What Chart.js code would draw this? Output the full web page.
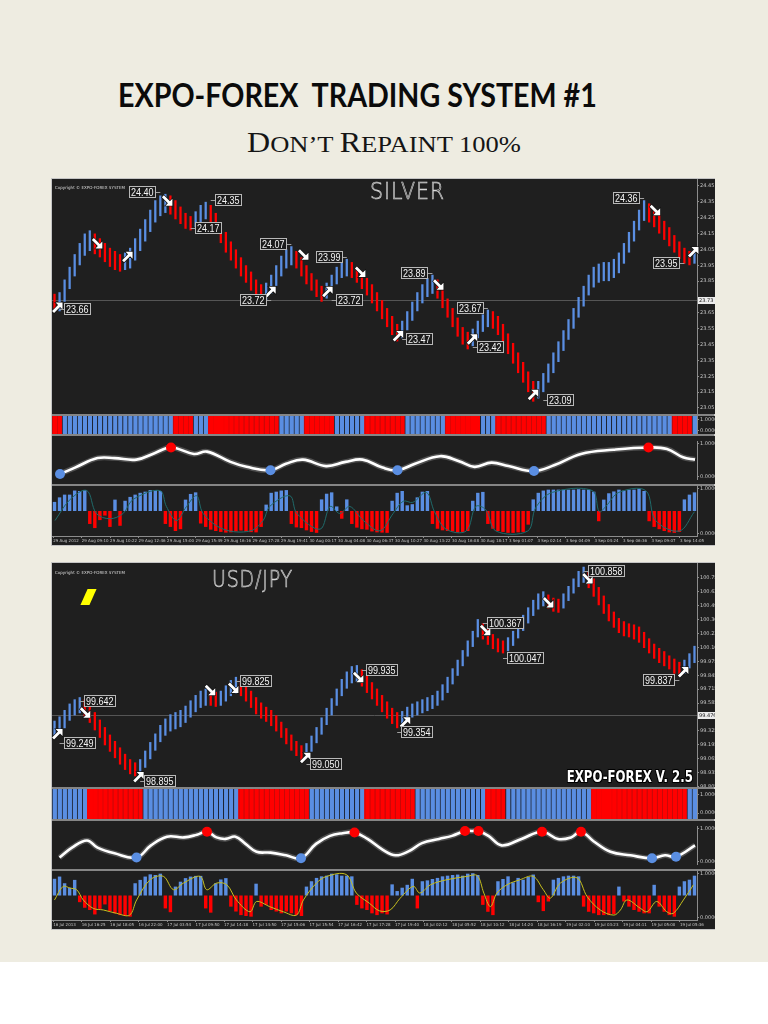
<!DOCTYPE html>
<html lang="en">
<head>
<meta charset="utf-8">
<title>EXPO-FOREX Trading System #1</title>
<script src="https://cdn.jsdelivr.net/npm/chart.js@4.4.1/dist/chart.umd.min.js"></script>
<style>
  body { margin: 0; background: #ffffff; }
  #page { position: relative; width: 768px; height: 962px; background: #eeece1; overflow: hidden; }
  .title { position: absolute; left: 118px; top: 78px; font: bold 33px/1 Lato, sans-serif; color: #0b0b0b; white-space: pre; transform-origin: left top; }
  .subtitle { position: absolute; left: 247px; top: 128px; font: 24px/1 "Liberation Serif", serif; color: #151515; white-space: pre; transform-origin: left top; }
  .subtitle .cap { font-size: 29px; }
  .panel { position: absolute; left: 51px; width: 664px; height: 368px; background: #858585; box-shadow: inset 0 0 0 1px #c4c4c4; }
  .panel canvas { position: absolute; left: 1px; background: #1f1f1f; }
  .copy { position: absolute; left: 4px; font: 4.2px/1 "DejaVu Sans", sans-serif; color: #dcdcdc; white-space: pre; transform-origin: left top; }
  .sym { position: absolute; font: 23px/1 "DejaVu Sans", sans-serif; font-weight: 300; color: #262626; -webkit-text-stroke: 0.7px #d8d8d8; letter-spacing: 1px; white-space: pre; transform-origin: left top; }
  .brand { position: absolute; right: 22px; top: 208px; font: bold 15px/1 "DejaVu Sans", sans-serif; color: #ffffff; white-space: pre; transform-origin: right top;
           text-shadow: -1px -1px 0 #000, 1px -1px 0 #000, -1px 1px 0 #000, 1px 1px 0 #000, 0 0 2px #000; }
  .flag { position: absolute; left: 33px; top: 27px; width: 9px; height: 16px; background: #ffff00; transform: skewX(-24deg); }
</style>
</head>
<body>
<div id="page">
  <div class="title" id="title">EXPO-FOREX  TRADING SYSTEM #1</div>
  <div class="subtitle" id="subtitle"><span class="cap">D</span>ON’T <span class="cap">R</span>EPAINT 100%</div>

  <div class="panel" style="top:178px">
    <canvas id="silverPrice" width="663" height="235" style="top:1px"></canvas>
    <canvas id="silverBand" width="663" height="18" style="top:238px"></canvas>
    <canvas id="silverOsc" width="663" height="48" style="top:258px"></canvas>
    <canvas id="silverHist" width="663" height="59" style="top:308px"></canvas>
    <div class="copy" id="copy1" style="top:8px">Copyright © EXPO-FOREX SYSTEM</div>
    <div class="sym" id="sym1" style="left:319px; top:2px">SILVER</div>
  </div>

  <div class="panel" style="top:562px">
    <canvas id="jpyPrice" width="663" height="224" style="top:1px"></canvas>
    <canvas id="jpyBand" width="663" height="30" style="top:227px"></canvas>
    <canvas id="jpyOsc" width="663" height="48" style="top:259px"></canvas>
    <canvas id="jpyHist" width="663" height="58" style="top:309px"></canvas>
    <div class="copy" id="copy2" style="top:9px">Copyright © EXPO-FOREX SYSTEM</div>
    <div class="sym" id="sym2" style="left:161px; top:6px">USD/JPY</div>
    <div class="flag"></div>
    <div class="brand" id="brand">EXPO-FOREX V. 2.5</div>
  </div>
</div>

<script>
/* -------------------------------------
   SILVER data (one entry per bar)
------------------------------------- */
const silverLow = [
  23.67, 23.66, 23.72, 23.80, 23.88, 23.95, 24.01, 24.04, 24.02, 24.00, 23.97, 23.94, 23.92, 23.91, 23.92, 23.93,
  23.98, 24.04, 24.10, 24.16, 24.22, 24.26, 24.28, 24.27, 24.24, 24.21, 24.18, 24.17, 24.19, 24.22, 24.24, 24.21,
  24.15, 24.09, 24.03, 23.98, 23.93, 23.88, 23.84, 23.79, 23.75, 23.72, 23.73, 23.77, 23.82, 23.88, 23.93, 23.95,
  23.93, 23.88, 23.83, 23.79, 23.75, 23.72, 23.74, 23.78, 23.83, 23.87, 23.88, 23.87, 23.84, 23.80, 23.76, 23.71,
  23.66, 23.61, 23.56, 23.51, 23.47, 23.49, 23.54, 23.60, 23.66, 23.71, 23.75, 23.77, 23.74, 23.68, 23.62, 23.56,
  23.50, 23.45, 23.42, 23.44, 23.49, 23.53, 23.56, 23.55, 23.51, 23.45, 23.39, 23.33, 23.27, 23.21, 23.15, 23.09,
  23.11, 23.15, 23.21, 23.27, 23.34, 23.41, 23.48, 23.55, 23.62, 23.69, 23.76, 23.81, 23.84, 23.85, 23.85, 23.87,
  23.90, 23.96, 24.03, 24.10, 24.17, 24.23, 24.22, 24.19, 24.15, 24.11, 24.07, 24.03, 23.99, 23.96, 23.95, 23.96
];
const silverHigh = [
  23.77, 23.78, 23.86, 23.94, 24.02, 24.09, 24.15, 24.17, 24.15, 24.12, 24.09, 24.06, 24.04, 24.02, 24.03, 24.06,
  24.12, 24.18, 24.24, 24.30, 24.36, 24.39, 24.40, 24.39, 24.36, 24.32, 24.28, 24.26, 24.29, 24.33, 24.35, 24.33,
  24.28, 24.22, 24.16, 24.10, 24.05, 24.00, 23.95, 23.91, 23.86, 23.83, 23.84, 23.89, 23.95, 24.01, 24.05, 24.07,
  24.04, 24.00, 23.95, 23.90, 23.86, 23.82, 23.84, 23.89, 23.94, 23.98, 23.99, 23.97, 23.94, 23.91, 23.87, 23.83,
  23.78, 23.73, 23.68, 23.63, 23.58, 23.60, 23.66, 23.72, 23.78, 23.83, 23.87, 23.89, 23.86, 23.80, 23.74, 23.68,
  23.62, 23.56, 23.53, 23.55, 23.60, 23.64, 23.67, 23.66, 23.63, 23.58, 23.52, 23.46, 23.40, 23.34, 23.28, 23.22,
  23.22, 23.27, 23.33, 23.40, 23.47, 23.54, 23.61, 23.68, 23.75, 23.82, 23.89, 23.94, 23.96, 23.97, 23.97, 23.99,
  24.03, 24.09, 24.16, 24.23, 24.30, 24.36, 24.34, 24.31, 24.27, 24.23, 24.19, 24.14, 24.10, 24.06, 24.04, 24.04
];
const silverTicks = [24.45, 24.35, 24.25, 24.15, 24.05, 23.95, 23.85, 23.65, 23.55, 23.45, 23.35, 23.25, 23.15, 23.05];
const silverBid = 23.73;
// [bar index, price, side of the label]
const silverMarks = [
  [1, 23.66, 'R'], [21, 24.40, 'L'], [31, 24.35, 'R'], [27, 24.17, 'R'], [43, 23.72, 'L'],
  [47, 24.07, 'L'], [55, 23.72, 'R'], [58, 23.99, 'L'], [69, 23.47, 'R'], [75, 23.89, 'L'],
  [86, 23.67, 'L'], [83, 23.42, 'R'], [97, 23.09, 'R'], [117, 24.36, 'L'], [125, 23.95, 'L']
];
// [bar index, price, up/down]
const silverArrows = [
  [0.5, 23.68, 'u'], [8.4, 24.09, 'd'], [14.4, 24.00, 'u'], [22.3, 24.36, 'd'], [42.8, 23.78, 'u'],
  [49.3, 24.02, 'd'], [54.1, 23.78, 'u'], [60.6, 23.91, 'd'], [68.1, 23.50, 'u'], [76.1, 23.83, 'd'],
  [82.8, 23.48, 'u'], [94.9, 23.13, 'u'], [119.1, 24.30, 'd'], [126.7, 24.03, 'u']
];
// colour runs of the trend strip: [colour, number of bars]
const silverBand = [
  ['r', 2], ['b', 22], ['r', 4], ['b', 3], ['r', 14], ['b', 5], ['r', 6], ['b', 6],
  ['r', 8], ['b', 8], ['r', 7], ['b', 3], ['r', 10], ['b', 25], ['r', 4], ['b', 1]
];
const silverOsc = [
  [0.1, 13], [3.1, 30], [7.6, 55], [11, 55], [15.4, 51], [19, 68], [22.3, 83], [26.9, 66], [29.5, 72],
  [34.2, 45], [37.4, 32], [42.2, 23], [45.3, 40], [48.7, 51], [53.3, 34], [57.2, 45], [60.6, 51],
  [64.6, 30], [67.6, 23], [71.1, 40], [76.1, 60], [79.9, 47], [83, 32], [86.4, 43], [89.8, 34],
  [94.9, 21], [98.9, 36], [104.3, 66], [110.8, 77], [117.8, 83], [121.5, 79], [124.7, 57], [127.1, 51]
];
const silverOscDots = [[0.1, 13, 'b'], [22.3, 83, 'r'], [42.2, 23, 'b'], [67.6, 23, 'b'], [94.9, 21, 'b'], [117.8, 83, 'r']];
const silverHist = [
  40, 60, 72, 72, 90, 88, 92, -57, -75, -40, -20, -70, 50, -65, 45, 62,
  72, 80, 85, 92, 92, 88, -57, -70, -88, -80, 50, 75, 82, -55, -70, -82,
  -88, -92, -95, -94, -90, -86, -90, -93, -94, -70, 28, 80, 85, 90, 92, -57,
  -72, -75, -85, -92, -96, 51, 76, 82, 20, -34, 51, -57, -73, -80, -82, -90,
  -94, -95, -96, 45, 80, 88, 25, 30, 60, 85, 88, -57, -78, -85, -88, -90,
  -95, -92, -88, 45, 80, 84, -57, -78, -88, -92, -96, -96, -94, -92, -60, 51,
  80, 90, 94, 94, 94, 94, 94, 94, 96, 94, 94, 85, -45, 50, 78, 86,
  94, 90, 94, 94, 98, 88, -45, -70, -80, -88, -94, -96, -92, 51, 72, 82
];
const silverSignal = [
  [0.1, -42], [3.1, 51], [6.4, 90], [8.3, -11], [11, -34], [13.6, -11], [15.6, 51], [20.9, 90], [22.2, 20],
  [24.2, -42], [26.2, 20], [28.2, 67], [29.5, -11], [33.5, -80], [38.8, -88], [41.4, -42], [42.7, 20],
  [46.7, 67], [48.1, -11], [52.7, -80], [54.7, 20], [56.6, -11], [58.6, 20], [61.3, -42], [64.6, -87],
  [67.2, -11], [69.2, 43], [71.1, 38], [73.8, 82], [75.4, -3], [77.7, -80], [81.7, -88], [83.6, 20],
  [85.6, 5], [87.6, -88], [93.9, -88], [95.5, 15], [98.8, 82], [106.7, 90], [108.1, -3], [109.4, 20],
  [112, 82], [117.3, 90], [119.3, -42], [124, -88], [127, -3]
];
const silverDates = [
  '29 Aug 2012', '29 Aug 09:10', '29 Aug 10:22', '29 Aug 12:46', '29 Aug 15:00', '29 Aug 15:49',
  '29 Aug 16:16', '29 Aug 17:28', '29 Aug 19:41', '30 Aug 00:17', '30 Aug 04:08', '30 Aug 06:37',
  '30 Aug 10:27', '30 Aug 13:22', '30 Aug 16:08', '30 Aug 18:17', '3 Sep 01:07', '3 Sep 02:14',
  '3 Sep 04:09', '3 Sep 04:24', '3 Sep 06:36', '3 Sep 09:07', '3 Sep 14:05'
];

/* -------------------------------------
   USD/JPY data
------------------------------------- */
const jpyLow = [
  99.25, 99.29, 99.35, 99.42, 99.47, 99.49, 99.46, 99.40, 99.33, 99.26, 99.19, 99.13, 99.07, 99.01, 98.96, 98.92,
  98.90, 98.92, 98.98, 99.06, 99.14, 99.22, 99.28, 99.32, 99.34, 99.36, 99.40, 99.45, 99.50, 99.54, 99.56, 99.56,
  99.55, 99.56, 99.60, 99.65, 99.67, 99.65, 99.60, 99.54, 99.48, 99.44, 99.41, 99.37, 99.32, 99.26, 99.20, 99.14,
  99.09, 99.05, 99.07, 99.13, 99.21, 99.29, 99.38, 99.47, 99.56, 99.65, 99.72, 99.77, 99.78, 99.74, 99.68, 99.62,
  99.56, 99.50, 99.44, 99.39, 99.35, 99.37, 99.42, 99.45, 99.47, 99.49, 99.51, 99.53, 99.56, 99.61, 99.68, 99.76,
  99.84, 99.93, 100.02, 100.11, 100.20, 100.18, 100.13, 100.09, 100.06, 100.05, 100.07, 100.12, 100.19, 100.26, 100.33, 100.40,
  100.46, 100.49, 100.47, 100.44, 100.43, 100.47, 100.54, 100.61, 100.67, 100.71, 100.66, 100.58, 100.50, 100.42, 100.35, 100.29,
  100.24, 100.21, 100.20, 100.18, 100.15, 100.10, 100.05, 100.00, 99.96, 99.93, 99.90, 99.86, 99.84, 99.86, 99.91, 99.96
];
const jpyHigh = [
  99.42, 99.46, 99.52, 99.58, 99.62, 99.64, 99.62, 99.57, 99.50, 99.43, 99.36, 99.29, 99.23, 99.17, 99.11, 99.06,
  99.03, 99.06, 99.14, 99.22, 99.30, 99.38, 99.44, 99.48, 99.50, 99.52, 99.56, 99.61, 99.66, 99.70, 99.72, 99.70,
  99.69, 99.70, 99.75, 99.80, 99.83, 99.81, 99.76, 99.70, 99.64, 99.59, 99.55, 99.52, 99.47, 99.41, 99.35, 99.29,
  99.23, 99.19, 99.21, 99.28, 99.36, 99.45, 99.54, 99.63, 99.72, 99.81, 99.88, 99.93, 99.94, 99.90, 99.84, 99.78,
  99.72, 99.66, 99.60, 99.54, 99.50, 99.51, 99.55, 99.58, 99.60, 99.62, 99.64, 99.66, 99.70, 99.76, 99.83, 99.91,
  99.99, 100.08, 100.17, 100.26, 100.37, 100.33, 100.28, 100.23, 100.19, 100.17, 100.20, 100.26, 100.33, 100.41, 100.48, 100.55,
  100.61, 100.63, 100.60, 100.57, 100.56, 100.61, 100.68, 100.75, 100.82, 100.86, 100.82, 100.75, 100.67, 100.59, 100.51, 100.44,
  100.38, 100.35, 100.33, 100.32, 100.30, 100.25, 100.19, 100.14, 100.10, 100.07, 100.03, 100.00, 99.97, 99.99, 100.05, 100.12
];
const jpyTicks = [100.755, 100.625, 100.495, 100.365, 100.235, 100.105, 99.975, 99.845, 99.715, 99.585, 99.325, 99.195, 99.065, 98.935, 98.805];
const jpyBid = 99.476;
const jpyMarks = [
  [1, 99.249, 'R'], [5, 99.642, 'R'], [17, 98.895, 'R'], [36, 99.825, 'R'], [50, 99.050, 'R'], [61, 99.935, 'R'],
  [68, 99.354, 'R'], [85, 100.367, 'R'], [89, 100.047, 'R'], [105, 100.858, 'R'], [124, 99.837, 'L']
];
const jpyArrows = [
  [0.5, 99.29, 'u'], [6, 99.50, 'd'], [16.6, 98.89, 'u'], [30.8, 99.71, 'd'], [35.4, 99.73, 'd'], [49.7, 99.07, 'u'],
  [60.2, 99.83, 'd'], [69.5, 99.40, 'u'], [85.4, 100.27, 'd'], [97.9, 100.53, 'd'], [105.7, 100.755, 'd'], [124.7, 99.87, 'u']
];
const jpyBand = [
  ['b', 7], ['r', 11], ['b', 19], ['r', 14], ['b', 11], ['r', 10], ['b', 14], ['r', 4], ['b', 17], ['r', 19], ['b', 2]
];
const jpyOsc = [
  [0, 17], [2.5, 43], [5.5, 62], [7.6, 43], [11, 28], [15.4, 17], [18.3, 49], [21.5, 72], [24.9, 70], [27.5, 77],
  [29.5, 85], [31.4, 70], [33.2, 66], [35.2, 72], [37.2, 53], [39.4, 32], [42.2, 30], [45.3, 23], [48.3, 15],
  [51.3, 53], [54.1, 74], [56.6, 81], [59, 83], [61.6, 66], [64.6, 38], [67.2, 23], [69.9, 34], [72.5, 55],
  [75.9, 66], [78.5, 74], [81.1, 87], [82.4, 87], [83.8, 87], [85.8, 74], [88.4, 49], [92.4, 66], [96.5, 85],
  [99.7, 66], [102.3, 70], [104.3, 85], [106.8, 60], [110.2, 32], [114.2, 23], [118.5, 15], [121.1, 23],
  [123.3, 19], [127.1, 49]
];
const jpyOscDots = [
  [15.4, 17, 'b'], [29.5, 85, 'r'], [48.3, 15, 'b'], [59, 83, 'r'], [81.1, 87, 'r'], [83.8, 87, 'r'],
  [96.5, 85, 'r'], [104.3, 85, 'r'], [118.5, 15, 'b'], [123.3, 19, 'b']
];
const jpyHist = [
  75, 85, 55, 35, 70, -30, -55, -65, -85, -60, -40, -70, -80, -88, -92, -95,
  55, 70, 85, 95, 92, 98, -58, -75, 40, 62, 78, 85, 88, 88, -58, -77,
  55, 72, 78, -50, -72, -88, -92, -95, 53, -50, -42, -65, -72, -80, -72, -80,
  -88, -92, 40, 64, 79, 86, 89, 98, 95, 89, 89, 86, -42, -58, -65, -80,
  -88, -80, -85, 50, 20, 35, 48, 75, -58, 64, 68, 74, 79, 86, 89, 92,
  94, 89, 98, 100, 92, -42, -73, -88, 64, 74, 86, 59, 79, 71, 83, 94,
  -30, -70, -27, 71, 79, 86, 89, 89, 86, -50, -73, -80, -88, -88, -88, -83,
  40, -27, -50, -65, -73, -80, -80, 48, -50, -73, -88, -95, 40, 64, 71, 89
];
const jpySignal = [
  [0, -20], [1.7, 41], [3.1, 33], [4.4, 26], [5.7, -20], [7.7, -58], [9.7, -65], [12.3, -80], [14.9, -88],
  [16.3, -20], [19, 71], [21.6, 86], [23.6, 26], [25.6, 56], [28.9, 86], [30.2, 26], [32.2, 56], [34.2, 48],
  [36.1, -20], [38.8, -73], [40.1, -27], [42.7, -50], [45.4, -73], [48, -88], [49.4, -20], [52, 56], [54, 86],
  [57.9, 94], [59.9, 11], [62.5, -35], [64.5, -69], [66.6, -65], [68.6, -12], [71.2, 41], [72.5, 11],
  [74.6, 48], [77.9, 71], [81.9, 86], [83.9, 89], [85.2, 11], [86.5, -50], [87.8, 11], [89.8, 48],
  [92.4, 71], [95, 86], [97, 26], [98.4, -12], [100.4, 56], [103.7, 79], [105.7, -5], [108.3, -65],
  [111, -88], [112.3, -65], [113.6, -20], [116.3, -58], [117.6, -73], [119.5, -27], [121.5, -73],
  [122.8, -80], [124.8, -20], [126.8, 48]
];
const jpyDates = [
  '16 Jul 2013', '16 Jul 16:25', '16 Jul 18:05', '16 Jul 22:00', '17 Jul 03:54', '17 Jul 09:50',
  '17 Jul 14:18', '17 Jul 14:50', '17 Jul 15:06', '17 Jul 15:54', '17 Jul 16:42', '17 Jul 17:28',
  '17 Jul 19:40', '18 Jul 02:12', '18 Jul 05:52', '18 Jul 10:12', '18 Jul 14:20', '18 Jul 16:19',
  '19 Jul 02:10', '19 Jul 03:23', '19 Jul 04:11', '19 Jul 05:00', '19 Jul 05:36'
];

const subTickText = ['1.000000', '0.000000'];

/* -------------------------------------
   Shared chart helpers
------------------------------------- */
const BLUE = '#5a8ee2';
const RED = '#ff0000';
const AXIS = '#8c8c8c';
const TICK = '#c4c4c4';
const tinyFont = { family: 'DejaVu Sans', size: 5 };
const dateFont = { family: 'DejaVu Sans', size: 4 };

function fixAxis(s) {
    s.paddingTop = 0; s.paddingBottom = 0; s.paddingLeft = 0; s.paddingRight = 0;
    if (!s.isHorizontal()) s.width = 18;
}

function hiddenX() {
    return { type: 'linear', min: -0.5, max: 127.5, offset: false, display: false, grid: { offset: false } };
}

function rightAxis(min, max, values, fmt) {
    return {
        position: 'right', min, max,
        afterBuildTicks: s => { s.ticks = values.map(v => ({ value: v })); },
        afterFit: fixAxis,
        border: { display: true, color: AXIS, width: 1 },
        grid: { drawOnChartArea: false, color: AXIS, tickLength: 2 },
        ticks: { color: TICK, font: tinyFont, padding: 1, autoSkip: false, callback: fmt }
    };
}

function opts(scales) {
    return {
        responsive: false, animation: false, events: [],
        layout: { padding: 0 },
        plugins: { legend: { display: false }, tooltip: { enabled: false } },
        scales
    };
}

function drawArrow(ctx, cx, cy, up) {
    ctx.save();
    ctx.translate(cx, cy);
    if (!up) ctx.scale(1, -1);
    ctx.beginPath();
    ctx.moveTo(5.5, -5.5); ctx.lineTo(5.5, 1.5); ctx.lineTo(3, -1); ctx.lineTo(-3, 5);
    ctx.lineTo(-5, 3); ctx.lineTo(1, -3); ctx.lineTo(-1.5, -5.5); ctx.closePath();
    ctx.lineWidth = 1.2;
    ctx.strokeStyle = '#101010';
    ctx.stroke();
    ctx.fillStyle = '#ffffff';
    ctx.fill();
    ctx.restore();
}

// arrows, price boxes and the bid line of a price window
function priceOverlay(d) {
    return {
        id: 'priceOverlay',
        beforeDatasetsDraw(chart) {
            const { ctx, chartArea: a, scales: { y } } = chart;
            const py = Math.round(y.getPixelForValue(d.bid)) + 0.5;
            ctx.save();
            ctx.strokeStyle = '#555555';
            ctx.lineWidth = 1;
            ctx.beginPath(); ctx.moveTo(a.left, py); ctx.lineTo(a.right, py); ctx.stroke();
            ctx.restore();
        },
        afterDatasetsDraw(chart) {
            const { ctx, scales: { x, y } } = chart;
            d.arrows.forEach(([i, p, dir]) => drawArrow(ctx, x.getPixelForValue(i), y.getPixelForValue(p), dir === 'u'));

            ctx.save();
            ctx.font = '11px "Liberation Sans"';
            ctx.textBaseline = 'middle';
            d.marks.forEach(([i, p, side]) => {
                const text = p.toFixed(d.dec);
                const px = x.getPixelForValue(i);
                const py = Math.round(y.getPixelForValue(p) + d.shift);
                const w = Math.round(ctx.measureText(text).width * 0.82) + 4;
                const bx = Math.round(side === 'R' ? px + 4 : px - 4 - w);
                ctx.strokeStyle = '#a0a0a0';
                ctx.lineWidth = 1;
                ctx.beginPath();
                ctx.moveTo(px, py + 0.5);
                ctx.lineTo(side === 'R' ? bx : bx + w, py + 0.5);
                ctx.stroke();
                ctx.fillStyle = '#1b1b1b';
                ctx.fillRect(bx, py - 6, w, 12);
                ctx.strokeStyle = '#b8b8b8';
                ctx.strokeRect(bx + 0.5, py - 5.5, w - 1, 11);
                ctx.save();
                ctx.translate(bx + 2, py + 0.5);
                ctx.scale(0.82, 1);
                ctx.fillStyle = '#f4f4f4';
                ctx.fillText(text, 0, 0);
                ctx.restore();
            });
            ctx.restore();
        },
        afterDraw(chart) {
            const { ctx, chartArea: a, scales: { y } } = chart;
            const py = Math.round(y.getPixelForValue(d.bid));
            ctx.save();
            ctx.fillStyle = '#ececec';
            ctx.fillRect(a.right + 1, py - 3, 17, 7);
            ctx.fillStyle = '#202020';
            ctx.font = '5px "DejaVu Sans"';
            ctx.textBaseline = 'middle';
            ctx.fillText(d.bid.toFixed(d.dec), a.right + 2, py + 0.5);
            ctx.restore();
        }
    };
}

/* -------------------------------------
   1. Price window (floating bars)
------------------------------------- */
function drawPrice(id, d, yMin, yMax) {
    const mid = d.high.map((h, i) => h + d.low[i]);
    const colors = mid.map((m, i) => (i === 0 ? mid[1] > m : m >= mid[i - 1]) ? BLUE : RED);
    new Chart(document.getElementById(id), {
        type: 'bar',
        data: {
            datasets: [{
                data: d.high.map((h, i) => ({ x: i, y: [d.low[i], h] })),
                backgroundColor: colors,
                barPercentage: 0.45,
                categoryPercentage: 1
            }]
        },
        options: opts({ x: hiddenX(), y: rightAxis(yMin, yMax, d.ticks, v => v.toFixed(d.dec)) }),
        plugins: [priceOverlay(d)]
    });
}

/* -------------------------------------
   2. Trend strip
------------------------------------- */
function drawBand(id, runs) {
    const colors = runs.flatMap(([c, n]) => Array(n).fill(c === 'b' ? BLUE : RED));
    new Chart(document.getElementById(id), {
        type: 'bar',
        data: {
            datasets: [{
                data: colors.map((c, i) => ({ x: i, y: 1 })),
                backgroundColor: colors,
                borderColor: colors.map(c => c === BLUE ? '#1d2433' : RED),
                borderWidth: { left: 1, right: 0, top: 0, bottom: 0 },
                borderSkipped: false,
                barPercentage: 1.12,
                categoryPercentage: 1
            }]
        },
        options: opts({ x: hiddenX(), y: rightAxis(0, 1, [0.8, 0.2], (v, k) => subTickText[k]) })
    });
}

/* -------------------------------------
   3. Oscillator line with signal dots
------------------------------------- */
function drawOsc(id, pts, dots) {
    const line = pts.map(([x, y]) => ({ x, y }));
    new Chart(document.getElementById(id), {
        type: 'line',
        data: {
            datasets: [
                {
                    order: 0, data: dots.map(([x, y]) => ({ x, y })), showLine: false, clip: false,
                    pointRadius: 5, pointBorderWidth: 0,
                    pointBackgroundColor: dots.map(p => p[2] === 'r' ? RED : BLUE)
                },
                { order: 1, data: line, borderColor: '#ffffff', borderWidth: 2.6, tension: 0.4, pointRadius: 0 },
                { order: 2, data: line, borderColor: 'rgba(95,95,95,0.75)', borderWidth: 5.5, tension: 0.4, pointRadius: 0 }
            ]
        },
        options: opts({ x: hiddenX(), y: rightAxis(0, 100, [94, 6], (v, k) => subTickText[k]) })
    });
}

/* -------------------------------------
   4. Histogram + signal line + dates
------------------------------------- */
function drawHist(id, vals, signal, sigColor, dates, dMin, dMax) {
    new Chart(document.getElementById(id), {
        type: 'bar',
        data: {
            datasets: [
                {
                    type: 'line', xAxisID: 'x', order: 0,
                    data: signal.map(([x, y]) => ({ x, y })),
                    borderColor: sigColor, borderWidth: 1, tension: 0.35, pointRadius: 0
                },
                {
                    xAxisID: 'x', order: 1,
                    data: vals.map((v, i) => ({ x: i, y: v })),
                    backgroundColor: vals.map(v => v >= 0 ? BLUE : RED),
                    barPercentage: 0.68, categoryPercentage: 1
                }
            ]
        },
        options: opts({
            x: hiddenX(),
            xd: {
                type: 'linear', position: 'bottom', min: dMin, max: dMax, offset: false,
                afterBuildTicks: s => { s.ticks = dates.map((t, k) => ({ value: k })); },
                afterFit: s => { fixAxis(s); s.height = 9; },
                border: { display: true, color: AXIS },
                grid: { drawOnChartArea: false, offset: false, color: AXIS, tickLength: 2 },
                ticks: { color: TICK, font: dateFont, padding: 1, align: 'start', maxRotation: 0, autoSkip: false, callback: (v, k) => dates[k] }
            },
            y: rightAxis(-110, 110, [100, -100], (v, k) => subTickText[k])
        })
    });
}

drawPrice('silverPrice', {
    low: silverLow, high: silverHigh, ticks: silverTicks, dec: 2, bid: silverBid,
    marks: silverMarks, arrows: silverArrows, shift: -2
}, 23.012, 24.494);
drawBand('silverBand', silverBand);
drawOsc('silverOsc', silverOsc, silverOscDots);
drawHist('silverHist', silverHist, silverSignal, '#1f6a6a', silverDates, -0.04, 22.6);

drawPrice('jpyPrice', {
    low: jpyLow, high: jpyHigh, ticks: jpyTicks, dec: 3, bid: jpyBid,
    marks: jpyMarks, arrows: jpyArrows, shift: 4
}, 98.800, 100.895);
drawBand('jpyBand', jpyBand);
drawOsc('jpyOsc', jpyOsc, jpyOscDots);
drawHist('jpyHist', jpyHist, jpySignal, '#c6bf1e', jpyDates, -0.04, 22.6);

/* -------------------------------------
   Fit headline texts to their widths
------------------------------------- */
function fitWidth(id, width) {
    const el = document.getElementById(id);
    const w = el.getBoundingClientRect().width;
    el.style.transform = 'scaleX(' + (width / w).toFixed(3) + ')';
}
fitWidth('title', 479);
fitWidth('subtitle', 274);
fitWidth('sym1', 75);
fitWidth('sym2', 81);
fitWidth('copy1', 70);
fitWidth('copy2', 70);
fitWidth('brand', 126);
</script>
</body>
</html>
